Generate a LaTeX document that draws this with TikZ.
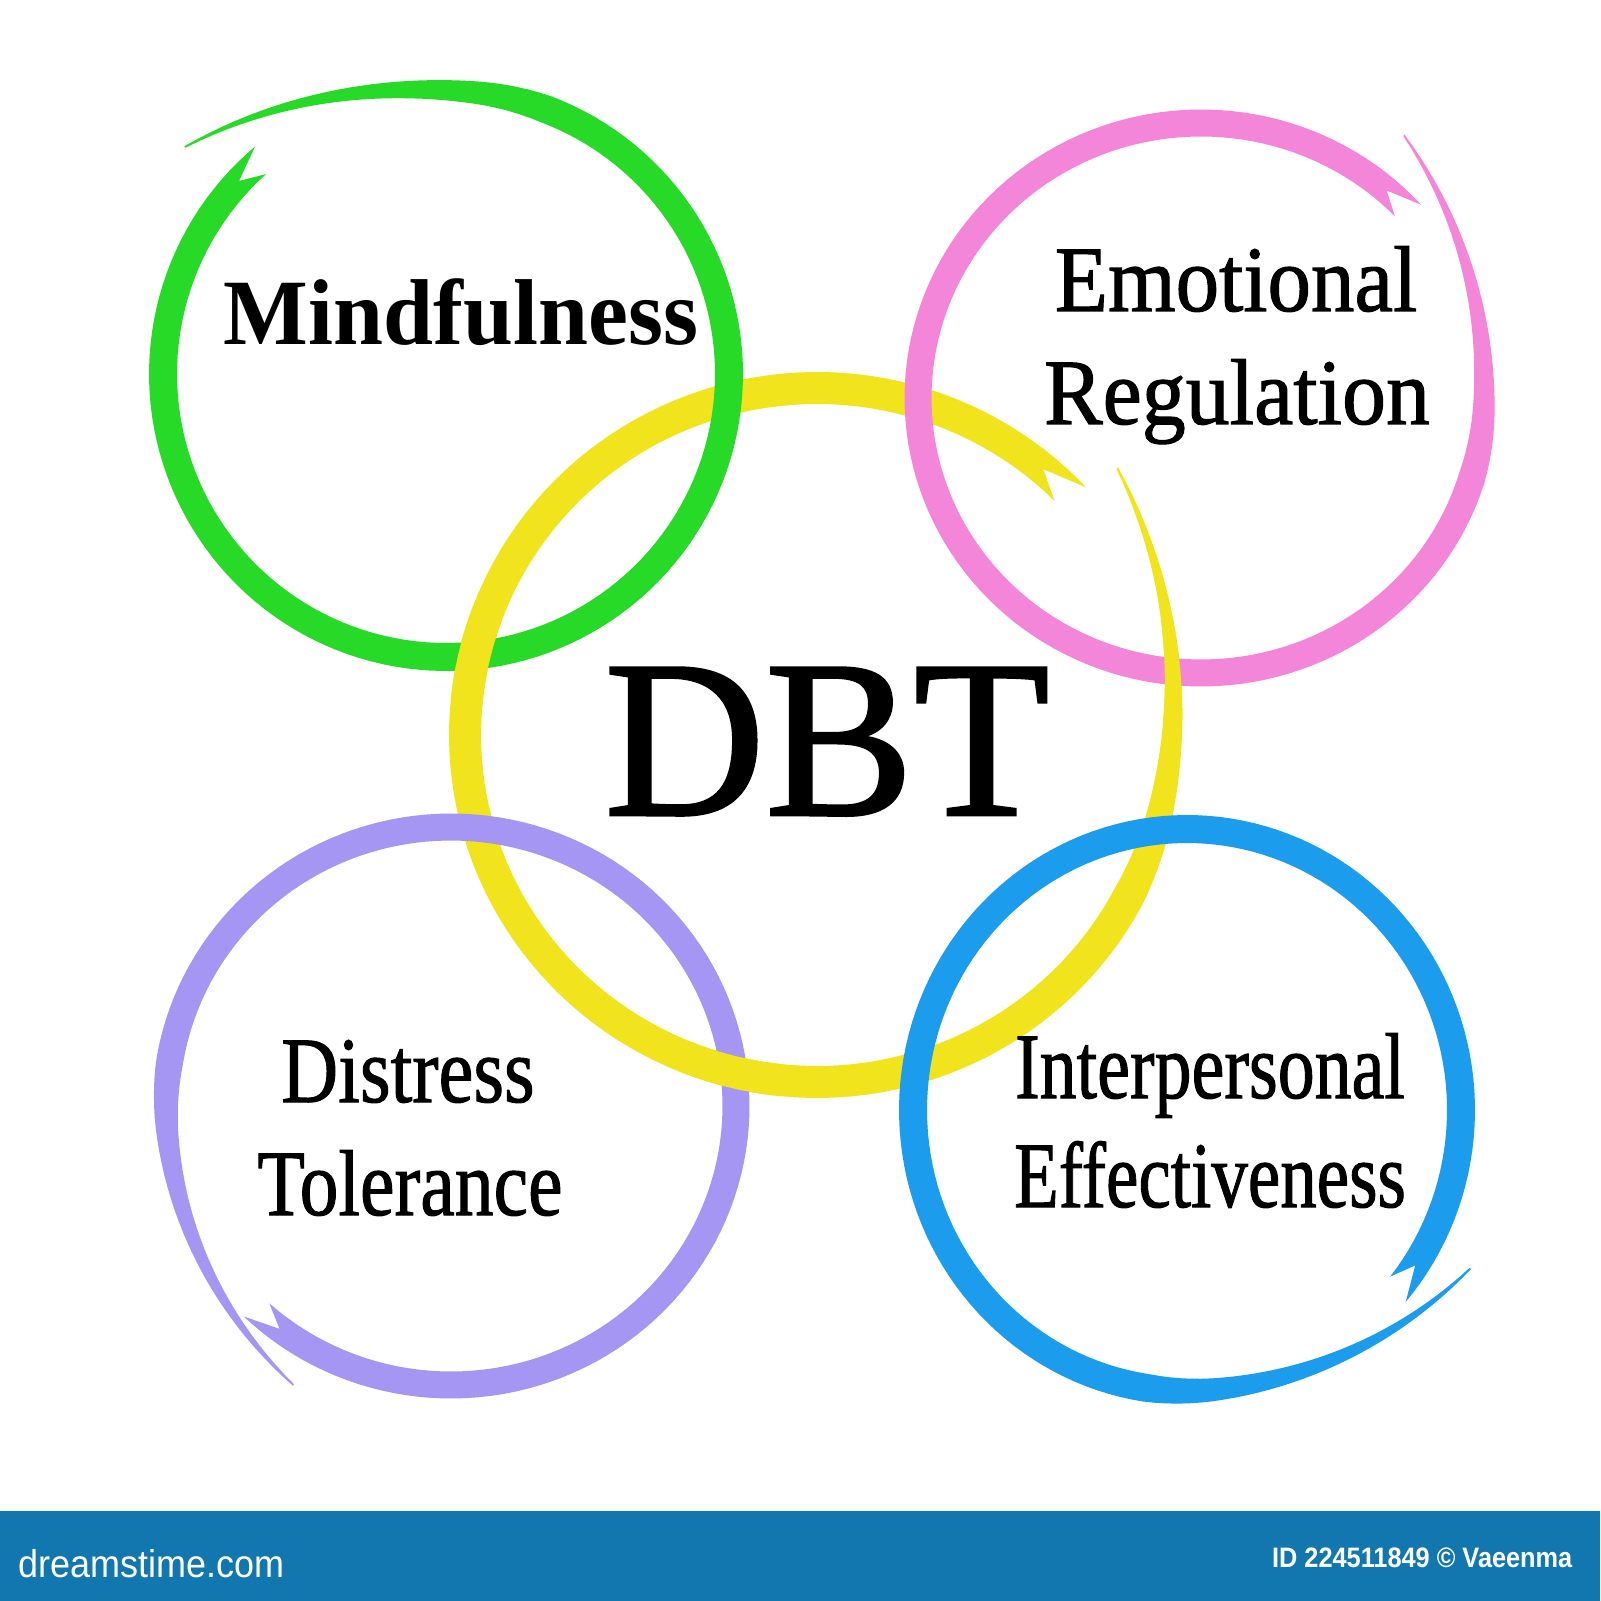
\documentclass[tikz,border=0pt]{standalone}
\usepackage{fontspec}
\setmainfont{Liberation Serif}
\setsansfont{Liberation Sans}
\newfontfamily\heavyserif{Liberation Serif}[FakeBold=1.2]
\definecolor{ringgreen}{RGB}{40, 218, 40}
\definecolor{ringpink}{RGB}{244, 134, 218}
\definecolor{ringyellow}{RGB}{241, 228, 28}
\definecolor{ringpurple}{RGB}{166, 150, 244}
\definecolor{ringblue}{RGB}{28, 156, 236}
\definecolor{bannerblue}{RGB}{17, 119, 174}
\usetikzlibrary{positioning}

% brush ring: colour, cx, cy, rx, ry, start angle, end angle, tail offset, width
\newcommand{\brushring}[9]{%
  \pgfmathsetmacro{\ringin}{#7-2}%
  \pgfmathsetmacro{\ringnotch}{#7-7}%
  \fill[#1] plot[domain=#6:#7, samples=160, variable=\t]
      ({#2+(#4+#8*(max(0,1-(\t-(#6))/55))^2+0.5*#9*min(1,0.07+(\t-(#6))/75))*cos(\t)},
       {#3+(#5+#8*(max(0,1-(\t-(#6))/55))^2+0.5*#9*min(1,0.07+(\t-(#6))/75))*sin(\t)})
    -- ({#2+#4*cos(\ringnotch)}, {#3+#5*sin(\ringnotch)})
    -- plot[domain=\ringin:#6, samples=160, variable=\t]
      ({#2+(#4+#8*(max(0,1-(\t-(#6))/55))^2-0.5*#9*min(1,0.07+(\t-(#6))/75))*cos(\t)},
       {#3+(#5+#8*(max(0,1-(\t-(#6))/55))^2-0.5*#9*min(1,0.07+(\t-(#6))/75))*sin(\t)})
    -- cycle;%
}

\tikzset{
  skill/.style={font=\heavyserif\fontsize{26.6}{32}\selectfont, anchor=base, inner sep=0pt},
  core/.style={font=\heavyserif\fontsize{64}{70}\selectfont, anchor=base, inner sep=0pt},
  stock/.style={font=\sffamily\bfseries, text=white, inner sep=0pt}
}

\begin{document}
\begin{tikzpicture}[x=0.01cm, y=-0.01cm]
  \useasboundingbox (0,0) rectangle (1600,1601);
  \fill[white] (0,0) rectangle (1600,1601);

  % Rings (yellow first, the others over it)
  \foreach \name/\col/\cx/\cy/\rx/\ry/\ts/\te/\ex/\wd in {
      dbt/ringyellow/817/735/352/347/-42/317/52/32,
      mind/ringgreen/446/374/283/283/221/590/63/28,
      emo/ringpink/1201/398/283/275/-53/318/54/27,
      dist/ringpurple/451/1106/285/279/119/494/40/27,
      inter/ringblue/1187/1110/274/281/28.7/400.6/49/28} {
    \brushring{\col}{\cx}{\cy}{\rx}{\ry}{\ts}{\te}{\ex}{\wd}
  }

  % Yellow back on top where it crosses over
  \foreach \px/\py in {476/655, 1162/674, 731/1074} {
    \begin{scope}
      \clip (\px,\py) circle (50);
      \brushring{ringyellow}{817}{735}{352}{347}{-42}{317}{52}{32}
    \end{scope}
  }

  % Labels
  \node[skill, font=\rmfamily\fontsize{26.6}{32}\selectfont\bfseries] (mindtext) at (461,345) {\scalebox{0.96}[1]{Mindfulness}};
  \node[skill] (emotext) at (1236,311) {\scalebox{0.93}[1]{Emotional}};
  \node[skill] (regtext) at (1237,424) {\scalebox{0.94}[1]{Regulation}};
  \node[core] (dbttext) at (827,815) {\scalebox{0.99}[1]{DBT}};
  \node[skill] (disttext) at (408,1102) {\scalebox{0.84}[1]{Distress}};
  \node[skill] (toltext) at (410,1215) {\scalebox{0.83}[1]{Tolerance}};
  \node[skill] (intertext) at (1210,1098) {\scalebox{0.79}[1]{Interpersonal}};
  \node[skill] (efftext) at (1210,1207) {\scalebox{0.78}[1]{Effectiveness}};

  % Stock banner
  \fill[bannerblue] (0,1511) rectangle (1600,1601);
  \node[stock, font=\sffamily\fontsize{11}{13}\selectfont, anchor=base west] (site) at (18,1577) {\scalebox{0.93}[1]{dreamstime.com}};
  \node[stock, font=\sffamily\bfseries\fontsize{8}{10}\selectfont, anchor=base east] (imgid) at (1573,1567) {\scalebox{0.9}[1]{ID 224511849 © Vaeenma}};
\end{tikzpicture}
\end{document}
